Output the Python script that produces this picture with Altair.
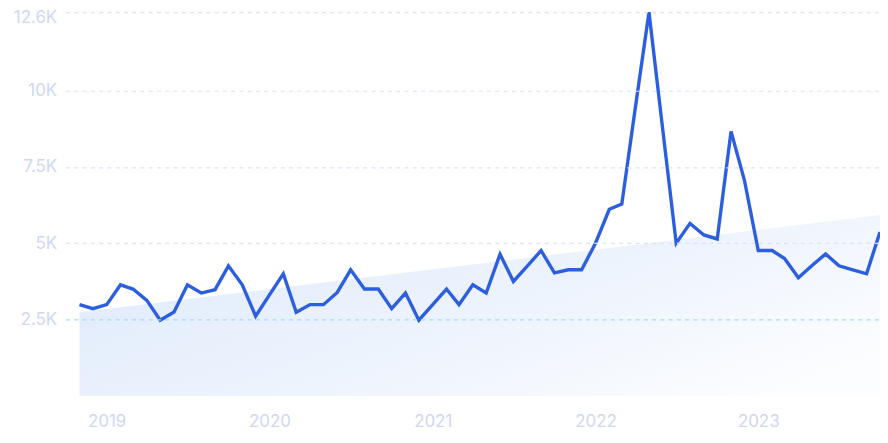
import altair as alt
import pandas as pd

# Monthly values (Nov 2018 - Oct 2023)
months = pd.date_range("2018-11-01", periods=60, freq="MS").strftime("%Y-%m-%d").tolist()
values = [
    2990, 2860, 2990, 3640, 3500, 3130, 2480, 2750, 3640, 3370, 3480, 4260,
    3640, 2610, 3310, 4000, 2740, 2990, 2990, 3390, 4130, 3500, 3500, 2860,
    3370, 2480, 2990, 3500, 2990, 3640, 3370, 4640, 3750, 4250, 4760, 4030,
    4130, 4130, 5000, 6110, 6280, 9500, 12560, 8700, 5000, 5650, 5270, 5140,
    8660, 7060, 4760, 4760, 4500, 3870, 4260, 4650, 4260, 4130, 4000, 5370,
]

# Trend band (start / end)
trend_dates = ["2018-11-01", "2023-10-01"]
trend_values = [2740, 5920]

x_domain = ["2018-10-01", "2023-10-01"]
y_ticks = [2500, 5000, 7500, 10000, 12560]
year_ticks = [2019, 2020, 2021, 2022, 2023]

df = pd.DataFrame({"date": months, "value": values})
trend = pd.DataFrame({"date": trend_dates, "value": trend_values})

FONT = "Inter"
LABEL_COLOR = "#cfd8f3"

x_scale = alt.Scale(domain=x_domain)
y_scale = alt.Scale(domain=[0, max(y_ticks)], nice=False)

x_axis = alt.Axis(
    values=[alt.DateTime(year=y, month=1, date=1) for y in year_ticks],
    format="%Y",
    title=None,
    grid=False,
    domain=False,
    ticks=False,
    labelFont=FONT,
    labelFontSize=17,
    labelColor=LABEL_COLOR,
    labelPadding=18,
)

y_axis = alt.Axis(
    values=y_ticks,
    labelExpr="format(datum.value / 1000, '.3~') + 'K'",
    title=None,
    domain=False,
    ticks=False,
    grid=True,
    gridColor={"condition": {"test": "datum.value == 2500", "value": "#a0dcfb"}, "value": "#dae3f8"},
    gridDash=[4, 4.3],
    gridWidth=1.2,
    labelFont=FONT,
    labelFontSize=17,
    labelColor=LABEL_COLOR,
    labelPadding=9,
    labelOffset={"condition": {"test": "datum.value > 12000", "value": 5}, "value": 0},
    zindex=1,
)

area = alt.Chart(trend).mark_area(
    color=alt.Gradient(
        gradient="linear",
        stops=[
            alt.GradientStop(color="#dfeafb", offset=0),
            alt.GradientStop(color="#eef4fd", offset=0.55),
            alt.GradientStop(color="#fcfdff", offset=1),
        ],
        x1=0, y1=0.2, x2=1, y2=0.8,
    )
).encode(
    x=alt.X("date:T", scale=x_scale, axis=x_axis),
    y=alt.Y("value:Q", scale=y_scale, axis=y_axis),
)

line = alt.Chart(df).mark_line(color="#2c5ee0", strokeWidth=3.4).encode(
    x=alt.X("date:T", scale=x_scale),
    y=alt.Y("value:Q", scale=y_scale),
)

chart = (area + line).properties(
    width=819,
    height=386,
    padding={"left": 58, "top": 3, "right": 0, "bottom": 42},
    autosize=alt.AutoSizeParams(type="none"),
    background="white",
).configure_view(stroke=None)

chart.save("out.html", embed_options={"renderer": "svg", "actions": False})
